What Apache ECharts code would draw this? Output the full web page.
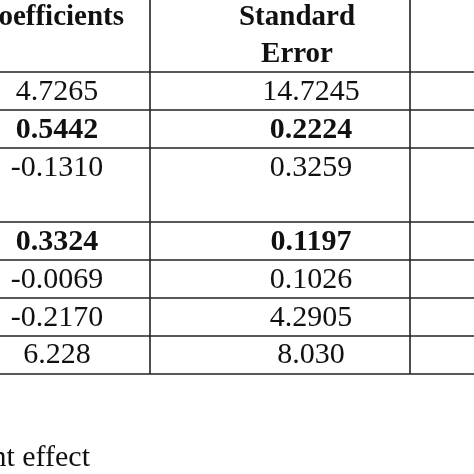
<!DOCTYPE html>
<html><head><meta charset="utf-8">
<script src="https://cdn.jsdelivr.net/npm/echarts@6/dist/echarts.min.js"></script>
<style>html,body{margin:0;padding:0;background:#fff}#c{width:474px;height:474px}</style>
</head><body><div id="c"></div>
<script>
const headers = ["Coefficients", "Standard\nError"];
const coefficients = ["4.7265", "0.5442", "-0.1310", "0.3324", "-0.0069", "-0.2170", "6.228"];
const stdErrors = ["14.7245", "0.2224", "0.3259", "0.1197", "0.1026", "4.2905", "8.030"];
const boldRows = [false, true, false, true, false, false, false];
const footnote = "* Significant effect";

const rowLines = [72, 110, 148, 222, 260, 298, 336, 374];
const colLines = [150, 410];
const textY = [92, 130, 168, 242, 280, 318, 355];
const font = '"Liberation Serif", "Times New Roman", serif';
const els = [];
rowLines.forEach(y => els.push({type:'line', shape:{x1:0,y1:y,x2:474,y2:y}, style:{stroke:'#222',lineWidth:1.6}}));
colLines.forEach(x => els.push({type:'line', shape:{x1:x,y1:0,x2:x,y2:rowLines[rowLines.length-1]}, style:{stroke:'#222',lineWidth:1.6}}));
els.push({type:'text', x:124, y:18, style:{text:headers[0], font:'bold 29px '+font, fill:'#111', textAlign:'right', textVerticalAlign:'middle'}});
els.push({type:'text', x:297, y:36, style:{text:headers[1], font:'bold 29px '+font, fill:'#111', textAlign:'center', textVerticalAlign:'middle', lineHeight:37}});
coefficients.forEach((v,i) => {
  const f = (boldRows[i] ? 'bold ' : '') + '30px ' + font;
  els.push({type:'text', x:57, y:textY[i], style:{text:v, font:f, fill:'#111', textAlign:'center', textVerticalAlign:'middle'}});
  els.push({type:'text', x:311, y:textY[i], style:{text:stdErrors[i], font:f, fill:'#111', textAlign:'center', textVerticalAlign:'middle'}});
});
els.push({type:'text', x:90, y:458, style:{text:footnote, font:'30px '+font, fill:'#111', textAlign:'right', textVerticalAlign:'middle'}});
const chart = echarts.init(document.getElementById('c'));
chart.setOption({backgroundColor:'#fff', animation:false, graphic:{elements:els}});
</script></body></html>
